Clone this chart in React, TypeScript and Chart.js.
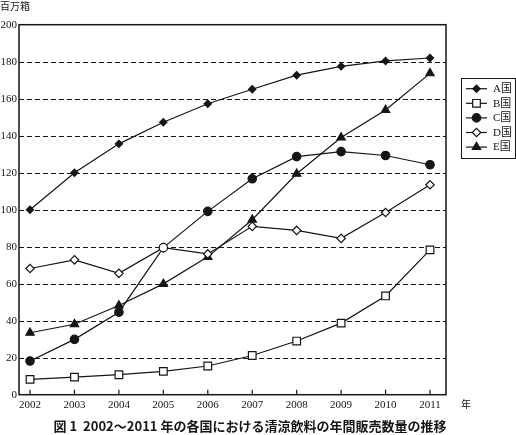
import React, { useEffect, useRef } from 'react';
import { Chart, registerables } from 'chart.js';
import { drawPoint } from 'chart.js/helpers';

Chart.register(...registerables);

// ---- data ----
const years = [2002, 2003, 2004, 2005, 2006, 2007, 2008, 2009, 2010, 2011];
const yTicks = [0, 20, 40, 60, 80, 100, 120, 140, 160, 180, 200];
const seriesLabels = ['A国', 'B国', 'C国', 'D国', 'E国'];
const seriesA = [100, 120, 135.6, 147.3, 157.3, 165.1, 172.7, 177.5, 180.4, 182];
const seriesB = [8.3, 9.5, 10.8, 12.6, 15.5, 21.2, 29, 38.7, 53.4, 78.3];
const seriesC = [18.2, 29.9, 44.6, 79.5, 99.1, 116.7, 128.7, 131.4, 129.3, 124.3];
const seriesD = [68.2, 72.9, 65.6, 79.5, 76.1, 91, 88.8, 84.5, 98.5, 113.5];
const seriesE = [33.5, 38.1, 48.2, 59.9, 74.5, 94.6, 119.4, 139, 153.9, 173.7];
const yUnit = '百万箱';
const xUnit = '年';
const caption = '図 1  2002〜2011 年の各国における清涼飲料の年間販売数量の推移';

// ---- styles ----
const INK = '#161616';
const markerStyles = ['rectRot', 'rect', 'circle', 'rectRot', 'triangle'];
const markerFills = [INK, '#ffffff', INK, '#ffffff', INK];
const markerRadii = [3.6, 5.4, 4.2, 4.2, 4.8];

const allSeries = [seriesA, seriesB, seriesC, seriesD, seriesE];

export default function App() {
  const ref = useRef<HTMLCanvasElement | null>(null);

  useEffect(() => {
    if (!ref.current) return;

    const decor = {
      id: 'decor',
      beforeDatasetsDraw(chart: any) {
        const { ctx, chartArea: a, scales } = chart;
        const ys = scales.y;
        const xs = scales.x;
        ctx.save();
        ctx.strokeStyle = INK;
        ctx.lineWidth = 1.2;
        ctx.setLineDash([5, 3]);
        yTicks.forEach((v) => {
          if (v === 0 || v === 200) return;
          const py = Math.round(ys.getPixelForValue(v)) + 0.5;
          ctx.beginPath();
          ctx.moveTo(a.left, py);
          ctx.lineTo(a.right, py);
          ctx.stroke();
        });
        ctx.setLineDash([]);
        ctx.lineWidth = 1.5;
        ctx.strokeRect(a.left, a.top, a.right - a.left, a.bottom - a.top);
        ctx.lineWidth = 1.2;
        years.forEach((yr) => {
          const px = xs.getPixelForValue(yr);
          ctx.beginPath();
          ctx.moveTo(px, a.bottom);
          ctx.lineTo(px, a.bottom - 5);
          ctx.stroke();
        });
        ctx.restore();
      },
      afterDraw(chart: any) {
        const { ctx } = chart;
        ctx.save();
        // legend
        const bx = 461, by = 78, bw = 54, bh = 80;
        ctx.strokeStyle = INK;
        ctx.lineWidth = 1;
        ctx.strokeRect(bx + 0.5, by + 0.5, bw, bh);
        chart.data.datasets.forEach((ds: any, i: number) => {
          const cy = 88.7 + i * 14.6;
          ctx.strokeStyle = INK;
          ctx.lineWidth = 1.2;
          ctx.beginPath();
          ctx.moveTo(466, cy);
          ctx.lineTo(487, cy);
          ctx.stroke();
          ctx.fillStyle = markerFills[i];
          ctx.strokeStyle = INK;
          ctx.lineWidth = 1.2;
          drawPoint(ctx, { pointStyle: markerStyles[i], radius: markerRadii[i], rotation: 0, borderWidth: 1.2 } as any, 476.5, cy);
          ctx.fillStyle = INK;
          ctx.font = '11px "Liberation Serif", "Noto Sans CJK JP"';
          ctx.textAlign = 'left';
          ctx.textBaseline = 'middle';
          ctx.fillText(ds.label, 493, cy + 0.5);
        });
        // unit labels
        ctx.fillStyle = INK;
        ctx.font = '10px "Noto Sans CJK JP"';
        ctx.textAlign = 'left';
        ctx.textBaseline = 'middle';
        ctx.fillText(yUnit, 0, 6);
        ctx.textAlign = 'center';
        ctx.fillText(xUnit, 466, 404);
        // caption
        ctx.font = 'bold 13px "Noto Sans CJK JP"';
        ctx.textAlign = 'center';
        ctx.fillText(caption, 250, 426);
        ctx.restore();
      },
    };

    const chart = new Chart(ref.current, {
      type: 'line',
      data: {
        datasets: allSeries.map((s, i) => ({
          label: seriesLabels[i],
          data: s.map((v, j) => ({ x: years[j], y: v })),
          borderColor: INK,
          borderWidth: 1.2,
          pointStyle: markerStyles[i] as any,
          pointRadius: markerRadii[i],
          pointBorderWidth: 1.2,
          pointBorderColor: INK,
          pointBackgroundColor: i === 2 ? s.map((_, j) => (years[j] === 2005 ? '#ffffff' : INK)) : markerFills[i],
          fill: false,
          tension: 0,
        })),
      },
      options: {
        responsive: false,
        animation: false,
        layout: { padding: { top: 24.7, left: 0, right: 70, bottom: 0 } },
        plugins: { legend: { display: false }, tooltip: { enabled: false }, title: { display: false } },
        scales: {
          x: {
            type: 'linear',
            min: 2001.752,
            max: 2011.36,
            afterBuildTicks: (scale: any) => {
              scale.ticks = years.map((v) => ({ value: v }));
            },
            afterFit: (scale: any) => {
              scale.height = 435 - 394.7;
            },
            grid: { display: false, drawTicks: false },
            border: { display: false },
            ticks: {
              padding: 4,
              color: INK,
              font: { family: '"Liberation Serif"', size: 11 },
              callback: (v: any) => String(v),
              maxRotation: 0,
              autoSkip: false,
            },
          },
          y: {
            min: 0,
            max: 200,
            afterBuildTicks: (scale: any) => {
              scale.ticks = yTicks.map((v) => ({ value: v }));
            },
            afterFit: (scale: any) => {
              scale.width = 19;
            },
            grid: { display: false, drawTicks: false },
            border: { display: false },
            ticks: {
              padding: 2,
              color: INK,
              font: { family: '"Liberation Serif"', size: 11 },
            },
          },
        },
      },
      plugins: [decor],
    });

    return () => chart.destroy();
  }, []);

  return (
    <div style={{ position: 'absolute', left: 0, top: 0, width: 516, height: 435, background: '#fff' }}>
      <canvas ref={ref} width={516} height={435} style={{ width: 516, height: 435, display: 'block' }} />
    </div>
  );
}
